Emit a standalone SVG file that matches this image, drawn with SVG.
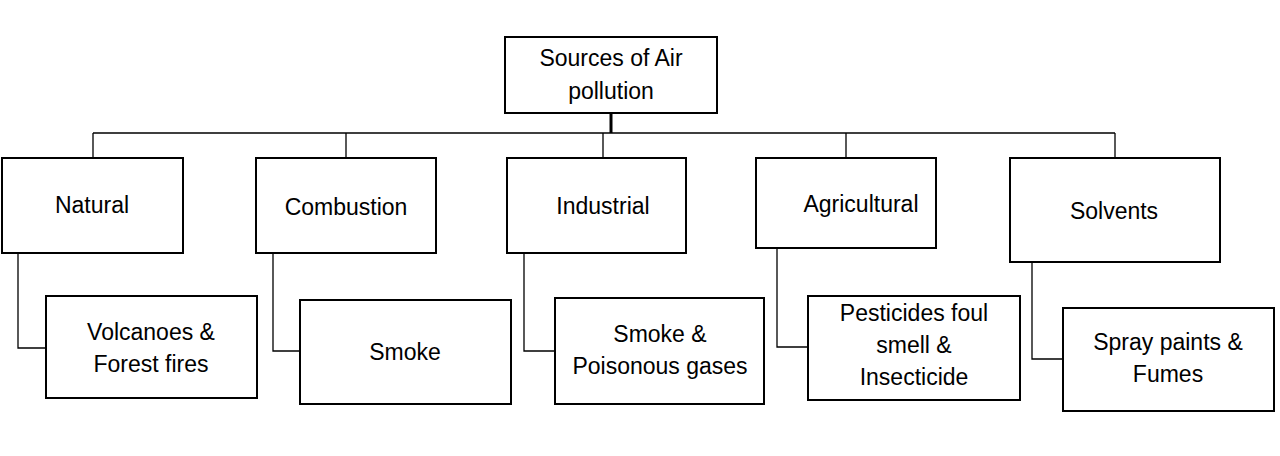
<svg xmlns="http://www.w3.org/2000/svg" width="1280" height="456" viewBox="0 0 1280 456">
<style>
rect{fill:#fff;stroke:#000;stroke-width:2}
text{font-family:"Liberation Sans","Noto Sans",sans-serif;font-size:23px;fill:#000;text-anchor:middle}
.c{fill:none;stroke:#000;stroke-width:1.3}
</style>
<rect x="0" y="0" width="1280" height="456" style="stroke:none"/>
<g id="connectors">
<path class="c" d="M611 113V133" style="stroke-width:3"/>
<path class="c" d="M93 133H1115M93 133V158M346 133V158M603 133V158M846 133V158M1115 133V158"/>
<path class="c" d="M18 253V348H46M273 253V351H300M524 253V351H555M777 248V347H808M1032 262V359H1063"/>
</g>
<g id="root"><rect x="505" y="37" width="212" height="76"/><text x="611" y="66">Sources of Air</text><text x="611" y="99">pollution</text></g>
<g id="natural"><rect x="2" y="158" width="181" height="95"/><text x="92" y="213">Natural</text></g>
<g id="combustion"><rect x="256" y="158" width="180" height="95"/><text x="346" y="215">Combustion</text></g>
<g id="industrial"><rect x="507" y="158" width="179" height="95"/><text x="603" y="214">Industrial</text></g>
<g id="agricultural"><rect x="756" y="158" width="180" height="90"/><text x="861" y="212">Agricultural</text></g>
<g id="solvents"><rect x="1010" y="158" width="210" height="104"/><text x="1114" y="219">Solvents</text></g>
<g id="volcanoes"><rect x="46" y="296" width="211" height="102"/><text x="151" y="340">Volcanoes &amp;</text><text x="151" y="372">Forest fires</text></g>
<g id="smoke"><rect x="300" y="300" width="211" height="104"/><text x="405" y="360">Smoke</text></g>
<g id="smokegases"><rect x="555" y="298" width="209" height="106"/><text x="660" y="342">Smoke &amp;</text><text x="660" y="374">Poisonous gases</text></g>
<g id="pesticides"><rect x="808" y="296" width="212" height="104"/><text x="914" y="321">Pesticides foul</text><text x="914" y="353">smell &amp;</text><text x="914" y="385">Insecticide</text></g>
<g id="spray"><rect x="1063" y="308" width="211" height="103"/><text x="1168" y="350">Spray paints &amp;</text><text x="1168" y="382">Fumes</text></g>
</svg>
